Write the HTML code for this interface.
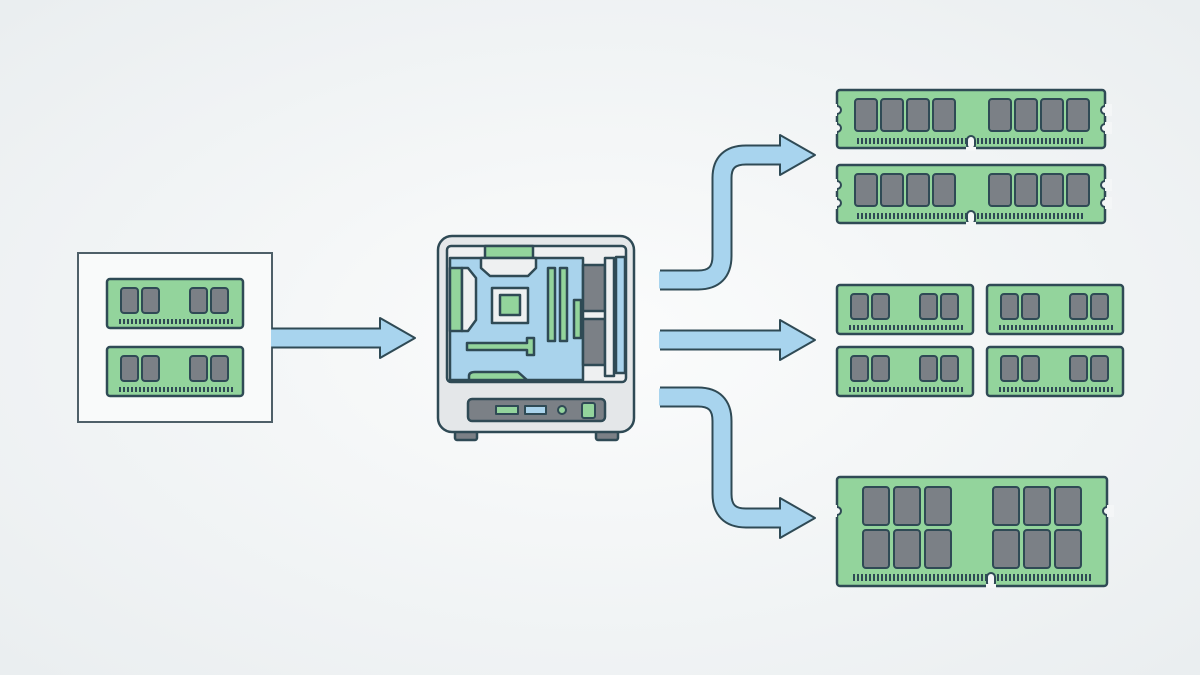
<!DOCTYPE html>
<html><head><meta charset="utf-8"><style>
html,body{margin:0;padding:0;width:1200px;height:675px;overflow:hidden;background:#f2f4f5}
svg{display:block}
</style></head><body>
<svg width="1200" height="675" viewBox="0 0 1200 675" xmlns="http://www.w3.org/2000/svg">
<defs>
<radialGradient id="bg" cx="50%" cy="50%" r="70%">
<stop offset="0" stop-color="#fbfcfc"/><stop offset="1" stop-color="#eaeef0"/></radialGradient>
<pattern id="pins" width="4" height="10" patternUnits="userSpaceOnUse">
<rect x="0" y="0" width="2" height="10" fill="#2f4a55"/></pattern>
<g id="dimm">
<rect x="0" y="0" width="268" height="58" rx="3" fill="#93d49c" stroke="#2f4a55" stroke-width="2.5"/>
<g fill="#f4f6f7" stroke="#2f4a55" stroke-width="2">
<circle cx="0" cy="20" r="4"/><circle cx="0" cy="38" r="4"/>
<circle cx="268" cy="20" r="4"/><circle cx="268" cy="38" r="4"/></g>
<g fill="#f4f6f7">
<rect x="-7" y="14" width="7" height="12"/><rect x="-7" y="32" width="7" height="12"/>
<rect x="268" y="14" width="7" height="12"/><rect x="268" y="32" width="7" height="12"/></g>
<g fill="#7b8086" stroke="#2f4a55" stroke-width="2">
<rect x="18" y="9" width="22" height="32" rx="3"/><rect x="44" y="9" width="22" height="32" rx="3"/>
<rect x="70" y="9" width="22" height="32" rx="3"/><rect x="96" y="9" width="22" height="32" rx="3"/>
<rect x="152" y="9" width="22" height="32" rx="3"/><rect x="178" y="9" width="22" height="32" rx="3"/>
<rect x="204" y="9" width="22" height="32" rx="3"/><rect x="230" y="9" width="22" height="32" rx="3"/></g>
<rect x="20" y="48" width="228" height="6" fill="url(#pins)"/>
<rect x="130" y="46" width="8" height="13" rx="4" fill="#f4f6f7" stroke="#2f4a55" stroke-width="2"/>
<rect x="129" y="57" width="10" height="4" fill="#f4f6f7"/>
</g>
<g id="so">
<rect x="0" y="0" width="136" height="49" rx="3" fill="#93d49c" stroke="#2f4a55" stroke-width="2.5"/>
<g fill="#7b8086" stroke="#2f4a55" stroke-width="2">
<rect x="14" y="9" width="17" height="25" rx="3"/><rect x="35" y="9" width="17" height="25" rx="3"/>
<rect x="83" y="9" width="17" height="25" rx="3"/><rect x="104" y="9" width="17" height="25" rx="3"/></g>
<rect x="10" y="40" width="116" height="5" fill="url(#pins)"/>
</g>
<g id="big">
<rect x="0" y="0" width="270" height="109" rx="3" fill="#93d49c" stroke="#2f4a55" stroke-width="2.5"/>
<circle cx="0" cy="34" r="4" fill="#f4f6f7" stroke="#2f4a55" stroke-width="2"/>
<circle cx="270" cy="34" r="4" fill="#f4f6f7" stroke="#2f4a55" stroke-width="2"/>
<rect x="-7" y="28" width="7" height="12" fill="#f4f6f7"/><rect x="270" y="28" width="7" height="12" fill="#f4f6f7"/>
<g fill="#7b8086" stroke="#2f4a55" stroke-width="2">
<rect x="26" y="10" width="26" height="38" rx="3"/><rect x="57" y="10" width="26" height="38" rx="3"/><rect x="88" y="10" width="26" height="38" rx="3"/>
<rect x="26" y="53" width="26" height="38" rx="3"/><rect x="57" y="53" width="26" height="38" rx="3"/><rect x="88" y="53" width="26" height="38" rx="3"/>
<rect x="156" y="10" width="26" height="38" rx="3"/><rect x="187" y="10" width="26" height="38" rx="3"/><rect x="218" y="10" width="26" height="38" rx="3"/>
<rect x="156" y="53" width="26" height="38" rx="3"/><rect x="187" y="53" width="26" height="38" rx="3"/><rect x="218" y="53" width="26" height="38" rx="3"/></g>
<rect x="14" y="97" width="242" height="7" fill="url(#pins)"/>
<rect x="150" y="96" width="8" height="14" rx="4" fill="#f4f6f7" stroke="#2f4a55" stroke-width="2"/>
<rect x="149" y="107" width="10" height="4" fill="#f4f6f7"/>
</g>
</defs>
<rect width="1200" height="675" fill="url(#bg)"/>

<rect x="78" y="253" width="194" height="169" fill="#f9fafa" stroke="#4e5f68" stroke-width="2"/>
<use href="#so" x="107" y="279"/>
<use href="#so" x="107" y="347"/>

<g fill="none" stroke-linejoin="round">
<path d="M272,338 H385" stroke="#2f4a55" stroke-width="21"/>
<path d="M660,280 H698 Q722,280 722,256 V178 Q722,155 746,155 H786" stroke="#2f4a55" stroke-width="21"/>
<path d="M660,340 H786" stroke="#2f4a55" stroke-width="21"/>
<path d="M660,397 H698 Q722,397 722,421 V494 Q722,518 746,518 H786" stroke="#2f4a55" stroke-width="21"/>
</g>
<g fill="#a8d4ee" stroke="#2f4a55" stroke-width="2" stroke-linejoin="round">
<polygon points="380,318 415,338 380,358"/>
<polygon points="780,135 815,155 780,175"/>
<polygon points="780,320 815,340 780,360"/>
<polygon points="780,498 815,518 780,538"/>
</g>
<g fill="none" stroke="#a8d4ee" stroke-width="17" stroke-linejoin="round">
<path d="M271,338 H388"/>
<path d="M659,280 H698 Q722,280 722,256 V178 Q722,155 746,155 H789"/>
<path d="M659,340 H789"/>
<path d="M659,397 H698 Q722,397 722,421 V494 Q722,518 746,518 H789"/>
</g>

<g stroke="#2f4a55" stroke-width="2.5" stroke-linejoin="round">
<rect x="455" y="428" width="22" height="12" rx="2" fill="#7b8086"/>
<rect x="596" y="428" width="22" height="12" rx="2" fill="#7b8086"/>
<rect x="438" y="236" width="196" height="196" rx="14" fill="#e4e7e9"/>
<rect x="447" y="246" width="179" height="136" rx="4" fill="#eef0f1"/>
<path d="M450,258 H583 V380 H450 Z" fill="#a9d3ec"/>
<rect x="485" y="246" width="48" height="12" fill="#93d49c"/>
<path d="M481,258 H536 V268 L528,276 H490 L481,268 Z" fill="#eef0f1"/>
<rect x="450" y="268" width="12" height="63" fill="#93d49c"/>
<path d="M462,268 H468 L476,278 V320 L468,331 H462 Z" fill="#eef0f1"/>
<rect x="492" y="288" width="36" height="35" fill="#eef0f1"/>
<rect x="500" y="295" width="20" height="20" fill="#93d49c"/>
<rect x="548" y="268" width="7" height="73" fill="#93d49c"/>
<rect x="560" y="268" width="7" height="73" fill="#93d49c"/>
<rect x="574" y="300" width="7" height="38" fill="#93d49c"/>
<path d="M467,343 H527 V338 H534 V355 H527 V350 H467 Z" fill="#93d49c"/>
<path d="M469,380 V376 Q469,372 475,372 H518 L527,380 Z" fill="#93d49c"/>
<path d="M583,265 H605 V311 H583 Z" fill="#7b8086"/>
<path d="M583,319 H605 V365 H583 Z" fill="#7b8086"/>
<path d="M605,258 H614 V376 H605 Z" fill="#eef0f1"/>
<rect x="616" y="257" width="9" height="116" fill="#a9d3ec"/>
<rect x="468" y="399" width="137" height="22" rx="4" fill="#7b8086"/>
<rect x="496" y="406" width="22" height="8" fill="#93d49c" stroke-width="2"/>
<rect x="525" y="406" width="21" height="8" fill="#a9d3ec" stroke-width="2"/>
<circle cx="562" cy="410" r="4" fill="#93d49c" stroke-width="2"/>
<rect x="582" y="403" width="13" height="15" rx="2" fill="#93d49c" stroke-width="2"/>
</g>

<use href="#dimm" x="837" y="90"/>
<use href="#dimm" x="837" y="165"/>
<use href="#so" x="837" y="285"/>
<use href="#so" x="987" y="285"/>
<use href="#so" x="837" y="347"/>
<use href="#so" x="987" y="347"/>
<use href="#big" x="837" y="477"/>
</svg>
</body></html>
